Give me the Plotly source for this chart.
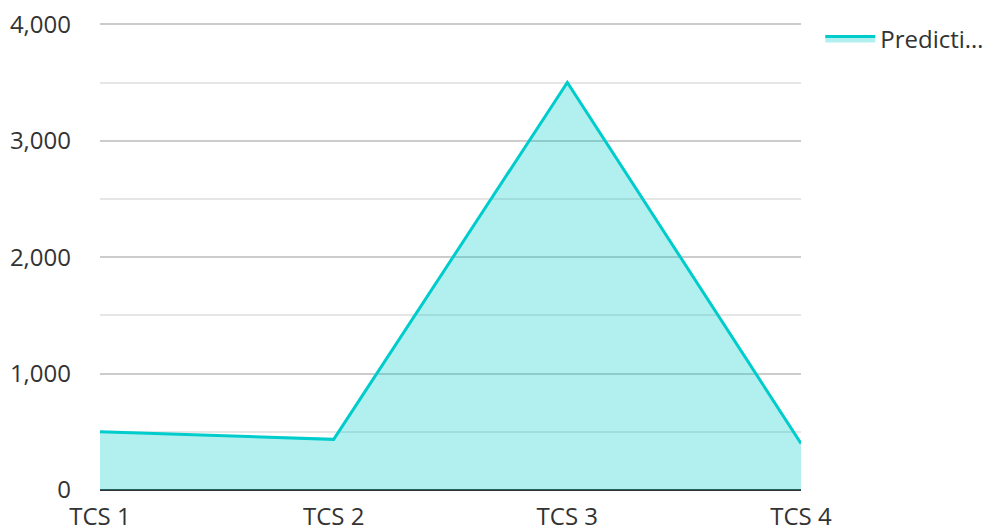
import plotly.graph_objects as go

categories = ["TCS 1", "TCS 2", "TCS 3", "TCS 4"]
values = [500, 435, 3500, 400]
series_name = "Predicti…"

fig = go.Figure()
fig.add_trace(go.Scatter(
    x=categories, y=values, name=series_name, mode="lines",
    line=dict(color="#00CCCC", width=3),
    fill="tozeroy", fillcolor="rgba(0,204,204,0.3)",
    showlegend=True,
))

fig.update_layout(
    width=985, height=524,
    margin=dict(l=92, r=192, t=14, b=42, autoexpand=False),
    paper_bgcolor="white", plot_bgcolor="white",
    font=dict(family="Open Sans", size=24, color="#333333"),
    showlegend=True,
    legend=dict(x=1.0275, y=1.012, xanchor="left", yanchor="top",
                itemwidth=50,
                font=dict(size=24, color="#333333"), bgcolor="rgba(0,0,0,0)"),
    xaxis=dict(
        type="category", range=[0, 3], showgrid=False, zeroline=False,
        showline=False, ticks="", tickfont=dict(size=24), automargin=False,
        ticklabelstandoff=10,
    ),
    yaxis=dict(
        range=[0, 4020], dtick=1000, tickformat=",d",
        showgrid=True, gridcolor="#cccccc", gridwidth=1.5,
        zeroline=True, zerolinecolor="#333333", zerolinewidth=2,
        minor=dict(dtick=500, showgrid=True, gridcolor="#e6e6e6", gridwidth=1.5),
        ticklabelstandoff=28, tickfont=dict(size=24), automargin=False,
        ticklabeloverflow="allow",
    ),
)

fig.write_html("out.html")
